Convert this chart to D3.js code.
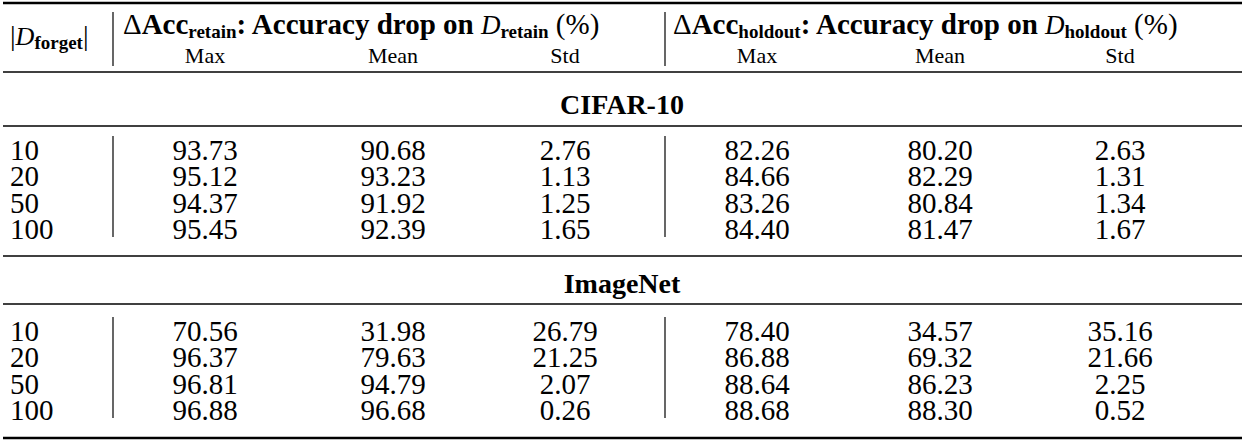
<!DOCTYPE html><html><head><meta charset="utf-8"><script src="https://cdn.jsdelivr.net/npm/d3@7"></script>
<style>body{margin:0;background:#fff}text{font-family:"Liberation Serif","Times New Roman",Tinos,"DejaVu Serif",serif;fill:#000}</style></head><body><svg id="c" width="1245" height="443"></svg>
<script>
const sizes=["10","20","50","100"];
const groups=["CIFAR-10","ImageNet"];
const statCols=["Max","Mean","Std"];
const cifarRetain=[["93.73","90.68","2.76"],["95.12","93.23","1.13"],["94.37","91.92","1.25"],["95.45","92.39","1.65"]];
const cifarHoldout=[["82.26","80.20","2.63"],["84.66","82.29","1.31"],["83.26","80.84","1.34"],["84.40","81.47","1.67"]];
const imnetRetain=[["70.56","31.98","26.79"],["96.37","79.63","21.25"],["96.81","94.79","2.07"],["96.88","96.68","0.26"]];
const imnetHoldout=[["78.40","34.57","35.16"],["86.88","69.32","21.66"],["88.64","86.23","2.25"],["88.68","88.30","0.52"]];
const svg=d3.select("#c");
const x=d3.scaleOrdinal().domain(["r0","r1","r2","h0","h1","h2"]).range([205,393,565,757,940,1120]);
const rowY=d3.scaleLinear().domain([0,1]).range([0,26.3]);
const line=(y,w)=>svg.append("line").attr("x1",3).attr("x2",1242).attr("y1",y).attr("y2",y).attr("stroke","#000").attr("stroke-width",w);
line(3,2.5);line(72,1.3);line(126,1.3);line(256,1.3);line(304,1.3);line(438,2.5);
const vl=(x0,y1,y2)=>svg.append("line").attr("x1",x0).attr("x2",x0).attr("y1",y1).attr("y2",y2).attr("stroke","#000").attr("stroke-width",1.2);
vl(113,12,66);vl(665,12,66);
const h=svg.append("text").attr("x",10).attr("y",45).attr("font-size",28);
h.append("tspan").text("|");h.append("tspan").attr("font-style","italic").attr("font-size",26).text("D");
h.append("tspan").attr("font-weight","bold").attr("font-size",19).attr("dy",4).text("forget");h.append("tspan").attr("dy",-4).text("|");
function head(x0,sub){const t=svg.append("text").attr("x",x0).attr("y",34).attr("font-size",29).attr("font-weight","bold");
t.append("tspan").attr("font-weight","normal").text("Δ");t.append("tspan").text("Acc");
t.append("tspan").attr("font-size",19).attr("dy",4).text(sub);t.append("tspan").attr("dy",-4).text(": Accuracy drop on ");
t.append("tspan").attr("font-style","italic").attr("font-weight","normal").attr("font-size",27).text("D");
t.append("tspan").attr("font-size",19).attr("dy",4).text(sub);t.append("tspan").attr("dy",-4).attr("font-weight","normal").text(" (%)");}
head(123,"retain");head(673,"holdout");
["r","h"].forEach(p=>statCols.forEach((s,i)=>svg.append("text").attr("x",x(p+i)).attr("y",63).attr("text-anchor","middle").attr("font-size",22).text(s)));
function block(name,top,ret,hold,labY){
 svg.append("text").attr("x",622).attr("y",labY).attr("text-anchor","middle").attr("font-size",28).attr("font-weight","bold").text(name);
 vl(113,top-14,top+3*26.3+8);vl(665,top-14,top+3*26.3+8);
 sizes.forEach((s,r)=>{const y=top+rowY(r)+10;
  svg.append("text").attr("x",10).attr("y",y).attr("font-size",29).text(s);
  ret[r].forEach((v,i)=>svg.append("text").attr("x",x("r"+i)).attr("y",y).attr("text-anchor","middle").attr("font-size",29).text(v));
  hold[r].forEach((v,i)=>svg.append("text").attr("x",x("h"+i)).attr("y",y).attr("text-anchor","middle").attr("font-size",29).text(v));});
}
block(groups[0],150,cifarRetain,cifarHoldout,114);
block(groups[1],331,imnetRetain,imnetHoldout,293);
</script></body></html>
